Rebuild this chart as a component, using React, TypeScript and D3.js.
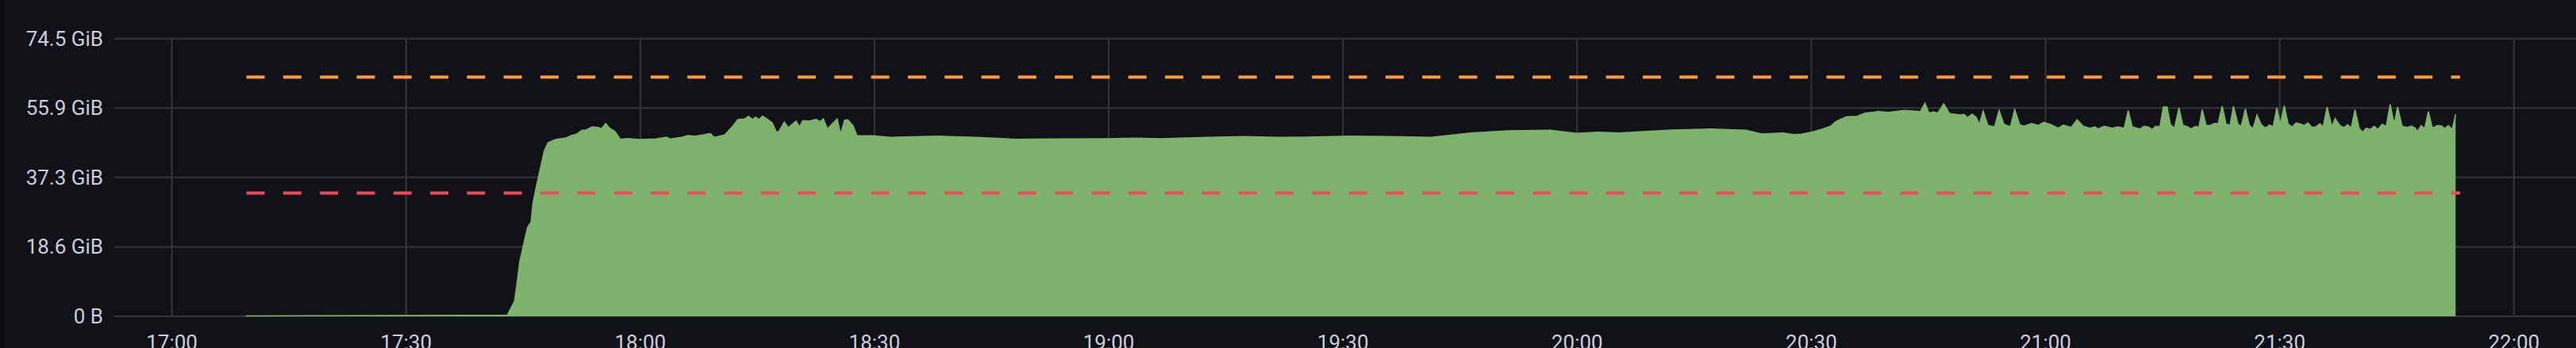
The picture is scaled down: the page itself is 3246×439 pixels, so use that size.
import * as d3 from 'd3';
import React from 'react';

// minutes after 17:00, memory in GiB
const usedMemory: [number, number][] = [
	[9.48, 0.1], [18.63, 0.15], [28.8, 0.2], [38.96, 0.25], [42.96, 0.3],
	[43.88, 4.04], [44.22, 9.0], [44.56, 14.68], [44.79, 16.8], [45.24, 21.06], [45.57, 23.88],
	[46.01, 25.31], [46.25, 30.27], [46.59, 33.82], [47.1, 38.78], [47.71, 44.45], [48.19, 46.58],
	[49.13, 47.43], [50.48, 47.86], [51.16, 48.49], [51.84, 48.85], [52.52, 49.92], [53.02, 49.98],
	[53.88, 50.83], [54.55, 50.69], [55.06, 50.34], [55.57, 51.75], [56.07, 50.48], [56.75, 49.62],
	[57.44, 47.5], [58.28, 47.71], [59.98, 47.43], [62.01, 47.57], [63.36, 48.07], [63.87, 47.57],
	[65.4, 48.07], [66.08, 48.49], [67.09, 48.35], [68.11, 48.71], [68.95, 49.06], [69.46, 48.0],
	[70.81, 48.64], [71.83, 50.98], [72.51, 52.82], [73.36, 52.96], [73.86, 53.67], [74.37, 52.82],
	[74.82, 53.45], [75.16, 52.75], [75.66, 53.74], [76.24, 52.96], [76.91, 51.9], [77.42, 49.42],
	[77.77, 49.63], [78.44, 52.11], [78.95, 50.62], [79.96, 52.39], [80.37, 50.83], [80.82, 52.47],
	[81.66, 52.39], [82.51, 52.82], [83.02, 52.25], [83.46, 52.96], [83.97, 50.26], [84.38, 51.19],
	[85.22, 52.96], [85.66, 48.85], [86.17, 52.6], [86.57, 52.75], [87.25, 51.19], [87.76, 48.49],
	[89.79, 48.43], [92.1, 48.0], [94.88, 48.17], [97.93, 48.35], [103.03, 48.0], [108.09, 47.49],
	[113.19, 47.57], [119.95, 47.64], [123.34, 47.79], [126.73, 47.64], [132.49, 48.0], [137.24, 48.22],
	[141.64, 48.0], [145.37, 48.07], [150.79, 48.35], [155.87, 48.22], [161.29, 48.0], [166.37, 49.2],
	[171.12, 49.77], [176.54, 49.92], [179.93, 49.06], [182.64, 49.41], [185.35, 49.2], [192.13, 49.98],
	[197.22, 50.26], [201.62, 49.92], [203.65, 48.92], [206.36, 49.2], [207.72, 48.77], [208.73, 48.85],
	[210.06, 49.41], [211.45, 50.26], [212.47, 50.98], [213.13, 52.25], [214.5, 53.53], [215.85, 53.67],
	[216.87, 54.52], [218.56, 54.94], [219.92, 54.73], [221.95, 55.23], [223.98, 54.94], [224.56, 57.21],
	[225.07, 54.52], [225.68, 54.87], [226.19, 54.52], [226.96, 57.0], [227.71, 54.38], [229.06, 54.02],
	[229.57, 54.17], [230.01, 53.32], [230.59, 54.24], [231.1, 53.45], [231.54, 51.53], [232.01, 55.09],
	[232.62, 51.19], [233.47, 50.83], [234.05, 55.23], [234.66, 51.53], [235.5, 50.83], [236.05, 55.45],
	[236.69, 51.41], [237.2, 50.98], [238.22, 51.75], [239.06, 51.19], [239.74, 52.04], [240.59, 51.53],
	[241.6, 50.48], [242.29, 51.32], [243.3, 50.69], [244.04, 52.75], [244.83, 50.98], [245.67, 50.48],
	[246.35, 50.83], [246.69, 50.26], [247.54, 50.98], [248.56, 50.48], [249.23, 50.83], [250.08, 50.48],
	[250.59, 55.23], [251.1, 50.83], [252.11, 50.26], [252.62, 50.98], [253.13, 50.83], [253.64, 50.13],
	[254.14, 50.98], [254.65, 50.83], [255.09, 56.15], [255.57, 56.15], [256.01, 51.41], [256.52, 50.48],
	[257.09, 55.94], [257.6, 51.19], [258.21, 50.83], [258.62, 50.26], [259.23, 50.98], [259.64, 50.69],
	[260.07, 55.45], [260.58, 51.19], [261.09, 51.19], [261.6, 51.75], [262.11, 51.68], [262.62, 56.36],
	[263.13, 51.53], [263.64, 51.32], [264.07, 56.36], [264.65, 51.53], [265.06, 50.98], [265.6, 55.66],
	[266.11, 51.19], [266.58, 50.34], [267.09, 54.02], [267.6, 51.53], [268.14, 50.48], [268.71, 51.32],
	[269.15, 50.83], [269.63, 55.94], [270.07, 51.53], [270.58, 56.51], [271.08, 51.53], [271.59, 50.83],
	[272.1, 51.9], [272.78, 51.53], [273.12, 51.19], [273.63, 51.9], [274.13, 50.69], [274.64, 50.83],
	[275.15, 51.68], [275.56, 50.83], [276.07, 56.15], [276.68, 50.83], [277.09, 53.1], [277.7, 51.19],
	[278.21, 50.62], [278.72, 51.41], [279.16, 50.48], [279.63, 55.45], [280.18, 50.48], [280.59, 49.41],
	[281.09, 50.48], [281.6, 50.13], [282.11, 50.98], [282.55, 50.13], [283.13, 51.53], [283.64, 50.98],
	[284.15, 56.86], [284.66, 51.53], [285.1, 56.15], [285.68, 50.98], [286.35, 50.69], [286.86, 51.05],
	[287.37, 50.48], [287.62, 49.56], [288.13, 51.19], [288.56, 50.34], [289.04, 54.94], [289.55, 50.48],
	[290.23, 51.19], [290.74, 51.05], [291.17, 50.34], [291.58, 51.19], [292.09, 50.13], [292.53, 54.17],
];

const memoryLimit: [number, number][] = [[9.55, 64.2], [293.1, 64.2]];
const memoryRequest: [number, number][] = [[9.55, 33.1], [293.1, 33.1]];

const yTicksGiB = [0, 1, 2, 3, 4].map((i) => (i * 20e9) / 2 ** 30);
const xTickMinutes = [0, 30, 60, 90, 120, 150, 180, 210, 240, 270, 300];
const viewMinutes = [-7.38, 307.95];

const width = 3246;
const height = 439;
const plot = { left: 144, right: 3246, top: 48.7, bottom: 399 };
const font = 'Roboto, "DejaVu Sans", sans-serif';

const base = new Date(2024, 0, 15, 17, 0, 0).getTime();
const toDate = (m: number) => new Date(base + m * 60000);

const formatBytes = (v: number) => (v === 0 ? '0 B' : `${v.toFixed(1)} GiB`);

export default function App(): React.JSX.Element {
	const x = d3.scaleTime()
		.domain(viewMinutes.map(toDate))
		.range([plot.left, plot.right]);
	const y = d3.scaleLinear()
		.domain([0, yTicksGiB[yTicksGiB.length - 1]])
		.range([plot.bottom, plot.top]);

	const area = d3.area<[number, number]>()
		.x((d) => x(toDate(d[0])))
		.y0(y(0))
		.y1((d) => y(d[1]));
	const line = d3.line<[number, number]>()
		.x((d) => x(toDate(d[0])))
		.y((d) => y(d[1]));
	const timeFmt = d3.timeFormat('%H:%M');

	return (
		<svg
			width={width}
			height={height}
			style={{ position: 'absolute', left: 0, top: 0, display: 'block' }}
		>
			<rect width={width} height={height} fill="#111217" />
			<rect width={6} height={height} fill="#0b0c0f" />

			{yTicksGiB.map((t) => (
				<line key={`gy${t}`} x1={plot.left} x2={plot.right} y1={y(t)} y2={y(t)} stroke="#35363b" strokeWidth={2} />
			))}
			{xTickMinutes.map((m) => (
				<line key={`gx${m}`} x1={x(toDate(m))} x2={x(toDate(m))} y1={plot.top} y2={plot.bottom} stroke="#35363b" strokeWidth={2} />
			))}

			<path d={area(usedMemory) ?? ''} fill="#7eb26d" />
			<path d={line(usedMemory) ?? ''} fill="none" stroke="#7eb26d" strokeWidth={1.5} />

			<path d={line(memoryLimit) ?? ''} fill="none" stroke="#ff9830" strokeWidth={4} strokeDasharray="23 23.3" />
			<path d={line(memoryRequest) ?? ''} fill="none" stroke="#f2495c" strokeWidth={4} strokeDasharray="23 23.3" />

			{yTicksGiB.map((t) => (
				<text key={`ly${t}`} x={130} y={y(t) + 9} textAnchor="end" fill="#ccccdc" fontFamily={font} fontSize={26}>
					{formatBytes(t)}
				</text>
			))}
			{/* the time labels sit partly below the bottom edge, as in the panel screenshot */}
			{xTickMinutes.map((m) => (
				<text key={`lx${m}`} x={x(toDate(m))} y={441} textAnchor="middle" fill="#ccccdc" fontFamily={font} fontSize={26}>
					{timeFmt(toDate(m))}
				</text>
			))}
		</svg>
	);
}
